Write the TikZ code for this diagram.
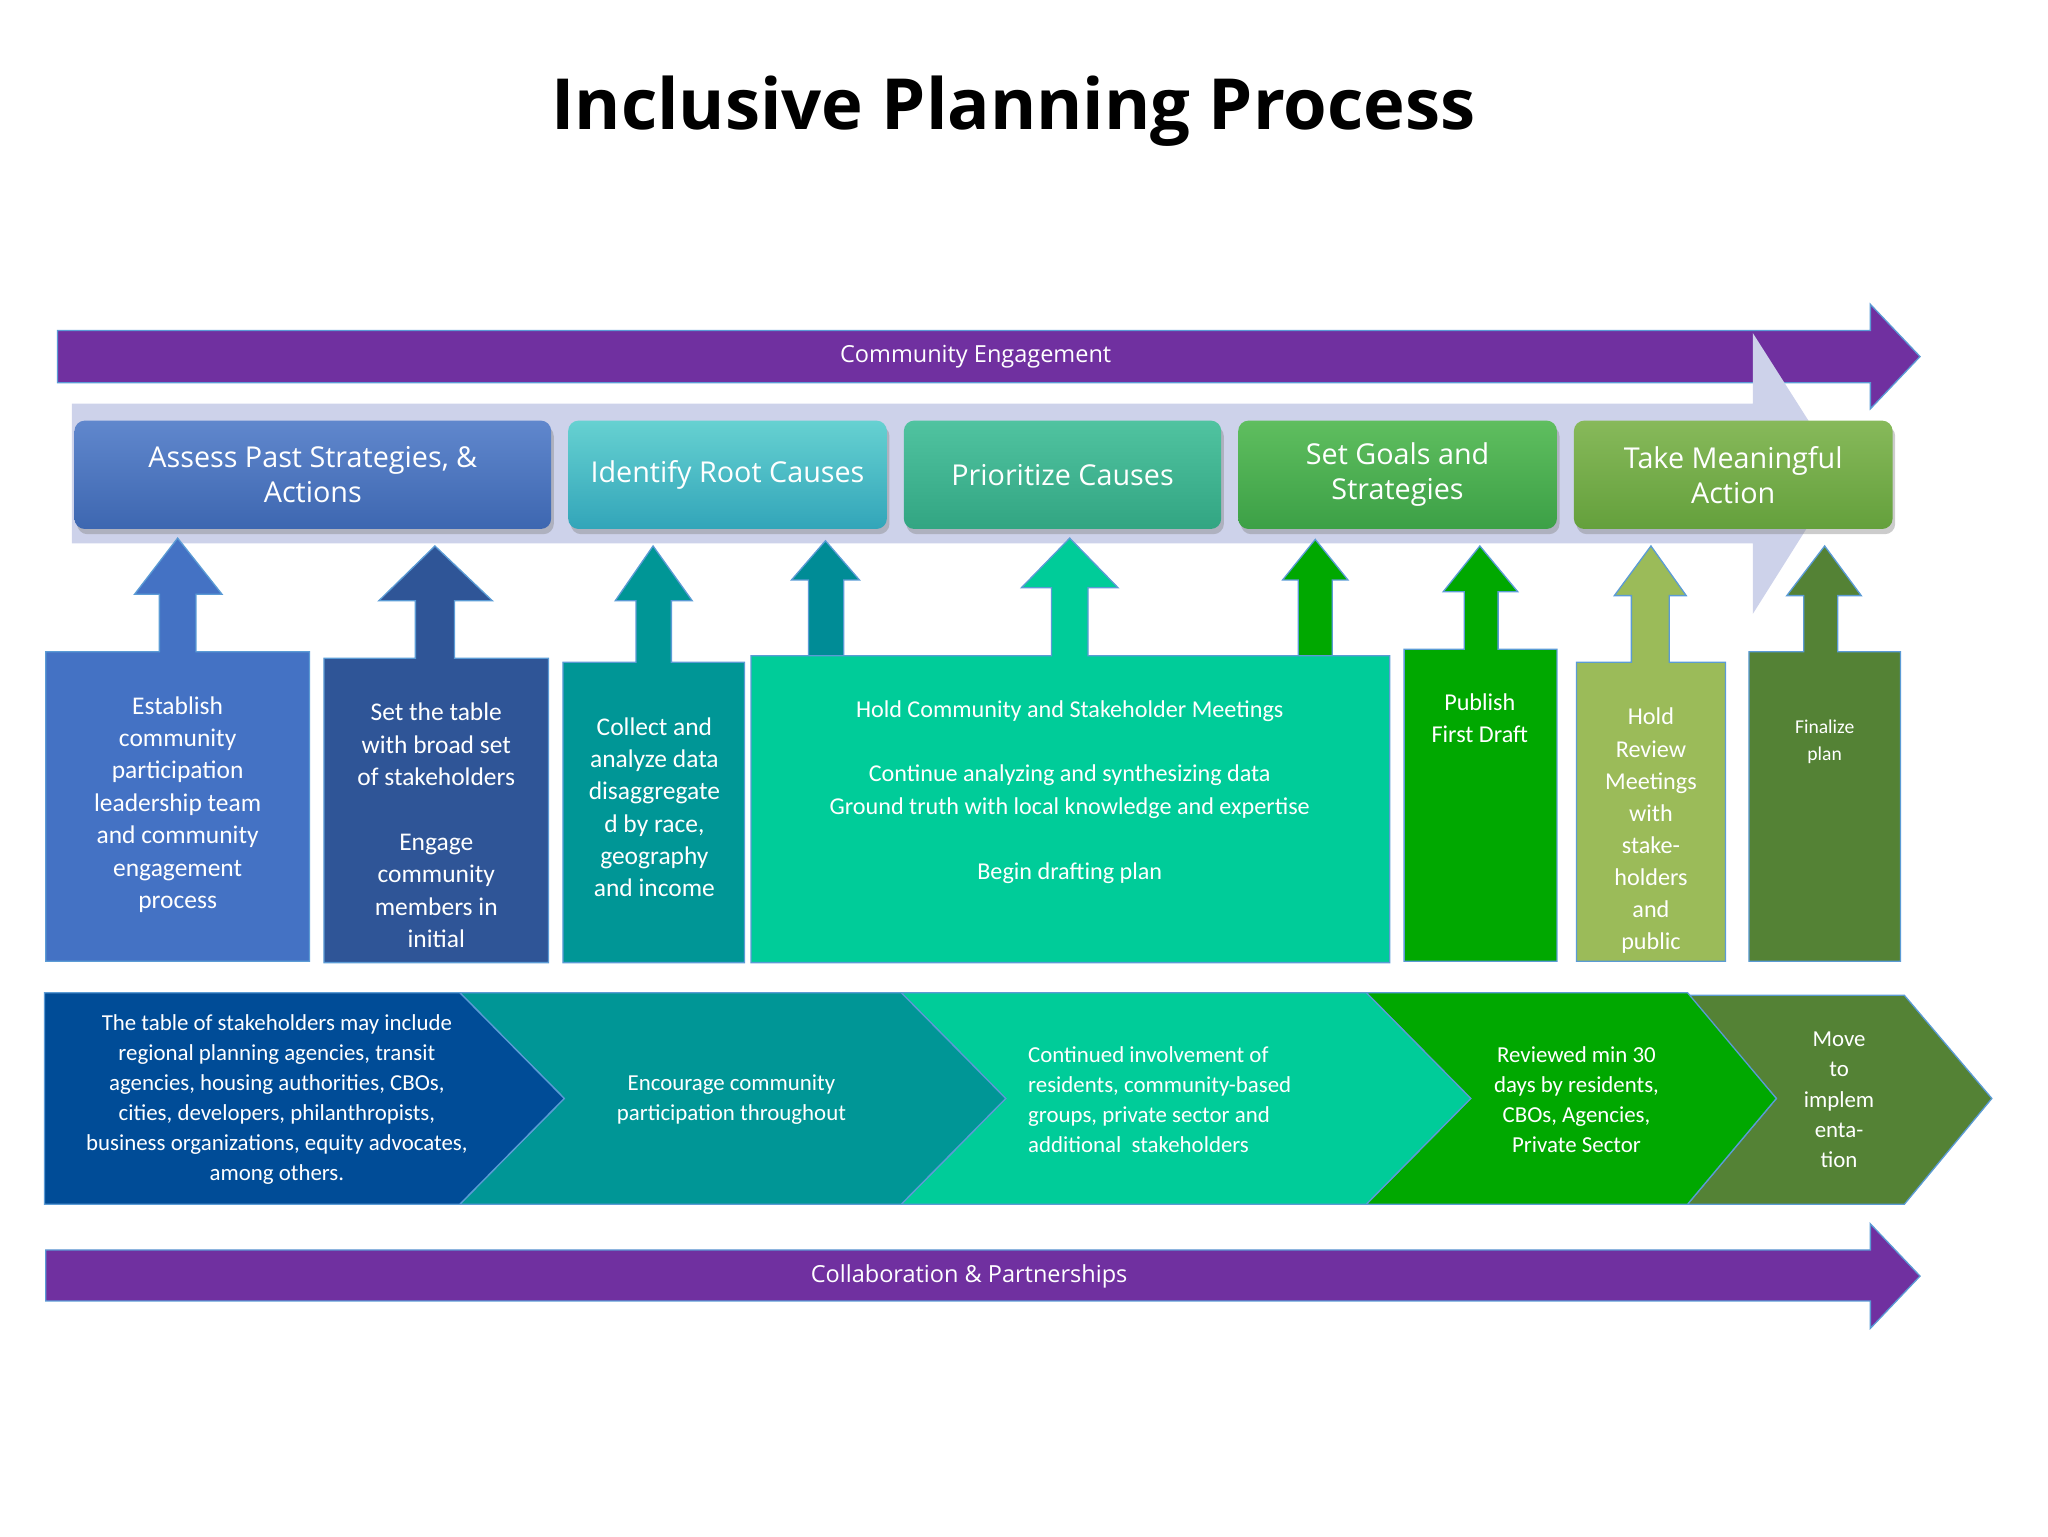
\documentclass[tikz,border=0pt]{standalone}
\usepackage{fontspec}
\setmainfont{Carlito}
\newfontfamily\osans{Open Sans}
\usetikzlibrary{shadows}
\definecolor{purp}{RGB}{112,48,160}
\definecolor{lav}{RGB}{205,210,234}
\definecolor{edgeb}{RGB}{91,155,213}
\definecolor{cA}{RGB}{68,114,196}
\definecolor{cB}{RGB}{47,85,151}
\definecolor{cC}{RGB}{0,150,150}
\definecolor{cD}{RGB}{0,204,153}
\definecolor{cE}{RGB}{0,168,0}
\definecolor{cF}{RGB}{155,187,89}
\definecolor{cG}{RGB}{84,130,53}
\definecolor{cH}{RGB}{0,76,151}
\definecolor{cT}{RGB}{0,140,150}
\tikzset{
  shp/.style={draw=edgeb,line width=1pt},
  topbox/.style={rounded corners=8pt,minimum height=83pt,inner sep=0pt,text=white,font=\osans\fontsize{22}{27}\selectfont,align=center,drop shadow={shadow xshift=2pt,shadow yshift=-4pt,opacity=0.4}},
  mtxt/.style={text=white,align=center,inner sep=0pt,anchor=north,font=\fontsize{19.5}{24.8}\selectfont},
  btxt/.style={text=white,align=center,inner sep=0pt,font=\fontsize{17.5}{23}\selectfont},
}
\newcommand{\uparr}[7]{% color, xl, xr, ytop(base), tip x, tip y, ... stem l,r in #7 as "sl/sr"
}
\begin{document}
\begin{tikzpicture}[x=1pt,y=-1pt]
\useasboundingbox (0,0) rectangle (1568,1176);
\node[font=\osans\bfseries\fontsize{54}{60}\selectfont] (title) at (776,85) {Inclusive Planning Process};
% community engagement arrow
\fill[shp,fill=purp] (44,253) -- (1432,253) -- (1432,233) -- (1470,273) -- (1432,313) -- (1432,293) -- (44,293) -- cycle;
\node[text=white,font=\osans\fontsize{18}{22}\selectfont] (ce) at (747,273) {Community Engagement};
% lavender arrow
\fill[lav] (55,309) -- (1342,309) -- (1342,255) -- (1410,362) -- (1342,470) -- (1342,416) -- (55,416) -- cycle;
% top boxes
\node[topbox,minimum width=365pt,top color=cA!85!white,bottom color=cA!90!black] (t1) at (239.5,363.5) {Assess Past Strategies, \&\\Actions};
\node[topbox,minimum width=244pt,top color=cyan!40!teal!60!white,bottom color={rgb,255:red,50;green,165;blue,185}] (t2) at (557,363.5) {Identify Root Causes};
\node[topbox,minimum width=243pt,top color={rgb,255:red,80;green,195;blue,160},bottom color={rgb,255:red,50;green,165;blue,130}] (t3) at (813.5,363.5) {Prioritize Causes};
\node[topbox,minimum width=244pt,top color={rgb,255:red,95;green,190;blue,95},bottom color={rgb,255:red,60;green,160;blue,70}] (t4) at (1070,363.5) {Set Goals and\\Strategies};
\node[topbox,minimum width=244pt,top color={rgb,255:red,135;green,185;blue,90},bottom color={rgb,255:red,100;green,160;blue,60}] (t5) at (1327,363.5) {Take Meaningful\\Action};
% middle boxes with up arrows
% box1
\fill[shp,fill=cA] (35,499) -- (122,499) -- (122,455) -- (103,455) -- (136,412) -- (170,455) -- (150,455) -- (150,499) -- (237,499) -- (237,736) -- (35,736) -- cycle;
\node[mtxt] (m1) at (136,533) {Establish\\community\\participation\\leadership team\\and community\\engagement\\process};
% box2
\fill[shp,fill=cB] (248,504) -- (318,504) -- (318,460) -- (290,460) -- (333,418) -- (377,460) -- (348,460) -- (348,504) -- (420,504) -- (420,737) -- (248,737) -- cycle;
\node[mtxt] (m2) at (334,538) {Set the table\\with broad set\\of stakeholders\\[24.8pt]Engage\\community\\members in\\initial};
% box3
\fill[shp,fill=cC] (431,507) -- (487,507) -- (487,460) -- (471,460) -- (500,418) -- (530,460) -- (514,460) -- (514,507) -- (570,507) -- (570,737) -- (431,737) -- cycle;
\node[mtxt] (m3) at (501,549) {Collect and\\analyze data\\disaggregate\\d by race,\\geography\\and income};
% box4 arrows
\fill[shp,fill=cT] (619,502) -- (619,444) -- (606,444) -- (632,414) -- (658,444) -- (646,444) -- (646,502) -- cycle;
\fill[shp,fill=cE] (994,502) -- (994,444) -- (982,444) -- (1007,413) -- (1032,444) -- (1020,444) -- (1020,502) -- cycle;
\fill[shp,fill=cD] (575,502) -- (805,502) -- (805,450) -- (782,450) -- (819,412) -- (856,450) -- (833,450) -- (833,502) -- (1064,502) -- (1064,737) -- (575,737) -- cycle;
\node[mtxt,font=\fontsize{18.5}{24.8}\selectfont] (m4) at (819,536) {Hold Community and Stakeholder Meetings\\[24.8pt]Continue analyzing and synthesizing data\\Ground truth with local knowledge and expertise\\[24.8pt]Begin drafting plan};
% box5
\fill[shp,fill=cE] (1075,497) -- (1121,497) -- (1121,453) -- (1105,453) -- (1133,418) -- (1162,453) -- (1147,453) -- (1147,497) -- (1192,497) -- (1192,736) -- (1075,736) -- cycle;
\node[mtxt,font=\fontsize{18.5}{24.8}\selectfont] (m5) at (1133,531) {Publish\\First Draft};
% box6
\fill[shp,fill=cF] (1207,507) -- (1249,507) -- (1249,456) -- (1236,456) -- (1264,418) -- (1291,456) -- (1278,456) -- (1278,507) -- (1321,507) -- (1321,736) -- (1207,736) -- cycle;
\begin{scope}
\clip (1207,507) rectangle (1321,736);
\node[mtxt,font=\fontsize{18.5}{24.6}\selectfont] (m6) at (1264,542) {Hold\\Review\\Meetings\\with\\stake-\\holders\\and\\public};
\end{scope}
% box7
\fill[shp,fill=cG] (1339,499) -- (1381,499) -- (1381,456) -- (1368,456) -- (1397,418) -- (1425,456) -- (1407,456) -- (1407,499) -- (1455,499) -- (1455,736) -- (1339,736) -- cycle;
\node[mtxt,font=\fontsize{15}{21}\selectfont] (m7) at (1397,551) {Finalize\\plan};
% bottom chevrons
\fill[shp,fill=cG] (1292,762) -- (1458,762) -- (1525,841) -- (1458,922) -- (1292,922) -- (1360,841) -- cycle;
\fill[shp,fill=cE] (1046,760) -- (1292,760) -- (1360,841) -- (1292,922) -- (1046,922) -- (1126,841) -- cycle;
\fill[shp,fill=cD] (690,760) -- (1046,760) -- (1126,841) -- (1046,922) -- (690,922) -- (770,841) -- cycle;
\fill[shp,fill=cC] (352,760) -- (690,760) -- (770,841) -- (690,922) -- (352,922) -- (432,841) -- cycle;
\fill[shp,fill=cH] (34,760) -- (352,760) -- (432,841) -- (352,922) -- (34,922) -- cycle;
\node[btxt] (b1) at (212,842) {The table of stakeholders may include\\regional planning agencies, transit\\agencies, housing authorities, CBOs,\\cities, developers, philanthropists,\\business organizations, equity advocates,\\among others.};
\node[btxt] (b2) at (560,842) {Encourage community\\participation throughout};
\node[btxt,align=left,anchor=west] (b3) at (787,842) {Continued involvement of\\residents, community-based\\groups, private sector and\\additional\ \ stakeholders};
\node[btxt] (b4) at (1207,842) {Reviewed min 30\\days by residents,\\CBOs, Agencies,\\Private Sector};
\node[btxt] (b5) at (1408,842) {Move\\to\\implem\\enta-\\tion};
% collaboration arrow
\fill[shp,fill=purp] (35,957) -- (1432,957) -- (1432,937) -- (1470,977) -- (1432,1017) -- (1432,996) -- (35,996) -- cycle;
\node[text=white,font=\osans\fontsize{18}{22}\selectfont] (cp) at (742,977) {Collaboration \& Partnerships};
\end{tikzpicture}
\end{document}
